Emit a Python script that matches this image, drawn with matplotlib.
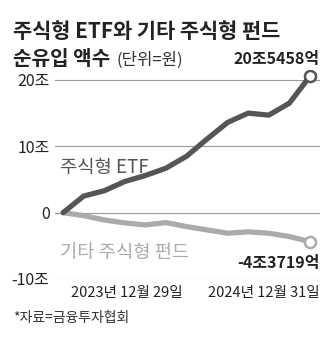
import numpy as np
import matplotlib.pyplot as plt

plt.rcParams['font.family'] = ['Noto Sans CJK KR', 'DejaVu Sans']

# 월 인덱스 (2개월 간격), 단위: 조원
months = [0, 2, 4, 6, 8, 10, 12, 14, 16, 18, 20, 22, 24]
etf = [0, 2.5, 3.3, 4.7, 5.6, 6.7, 8.5, 11.1, 13.6, 15.0, 14.7, 16.5, 20.5458]
other = [0, -0.45, -1.1, -1.55, -1.85, -1.5, -2.1, -2.6, -3.1, -2.9, -3.1, -3.6, -4.3719]

yticks = [20, 10, 0, -10]
ytick_labels = ['20조', '10조', '0', '-10조']
xtick_pos = [6.2, 19.5]
xtick_labels = ['2023년 12월 29일', '2024년 12월 31일']

dark = '#555555'
light = '#ababab'

fig = plt.figure(figsize=(3.36, 3.62), dpi=100)
ax = fig.add_axes([0.164, 0.2293, 0.788, 0.5773])

for y in yticks:
    ax.axhline(y, color='#9a9a9a', lw=0.8, zorder=1)

ax.plot(months, other, color=light, lw=3.8, solid_capstyle='round', zorder=3)
ax.plot(months, etf, color=dark, lw=3.8, solid_capstyle='round', zorder=4)
ax.plot(months[-1], etf[-1], 'o', ms=8, mfc='white', mec=dark, mew=1.8, zorder=5)
ax.plot(months[-1], other[-1], 'o', ms=8, mfc='white', mec=light, mew=1.8, zorder=5)

ax.set_xlim(-0.78, 24.97)
ax.set_ylim(-10, 21.5)
ax.set_yticks(yticks)
ax.set_yticklabels(ytick_labels, fontsize=11.5, color='#222222')
ax.set_xticks(xtick_pos)
ax.set_xticklabels(xtick_labels, fontsize=10.5, color='#222222', fontweight='medium')
ax.tick_params(length=0, axis='y', pad=4)
ax.tick_params(length=0, axis='x', pad=5)
for s in ax.spines.values():
    s.set_visible(False)

ax.text(24.97, etf[-1] + 2.6, f'{int(etf[-1])}조{round((etf[-1] % 1) * 10000)}억',
        ha='right', va='center', fontsize=11.5, fontweight='bold', color='#222222')
ax.text(24.97, other[-1] - 3.2, f'-{int(-other[-1])}조{round((-other[-1] % 1) * 10000)}억',
        ha='right', va='center', fontsize=11.5, fontweight='bold', color='#222222')

ax.text(-0.3, 6.8, '주식형 ETF', fontsize=13.5, color=dark, va='center')
ax.text(-0.3, -6.0, '기타 주식형 펀드', fontsize=13.5, color=light, va='center')

fig.text(0.04, 0.895, '주식형 ETF와 기타 주식형 펀드', fontsize=15, fontweight='bold',
         color='#222222', va='baseline')
fig.text(0.04, 0.82, '순유입 액수', fontsize=14.5, fontweight='bold',
         color='#222222', va='baseline')
fig.text(0.348, 0.82, '(단위=원)', fontsize=12, color='#333333', va='baseline')
fig.text(0.04, 0.122, '*자료=금융투자협회', fontsize=10, color='#333333', va='center')

fig.savefig('out.png', dpi=100)
